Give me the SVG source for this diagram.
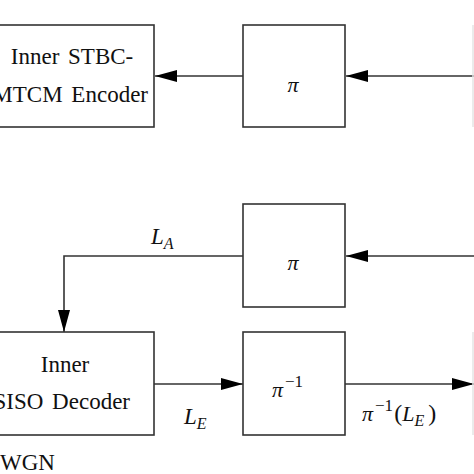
<svg xmlns="http://www.w3.org/2000/svg" width="474" height="474" viewBox="0 0 474 474">
<style>
.box{fill:#fff;stroke:#333;stroke-width:1.6}
.ln{fill:none;stroke:#333;stroke-width:1.6}
.t{font-family:"Liberation Serif","Times New Roman",serif;font-size:23px;fill:#111}
.m{font-family:"Liberation Serif","Times New Roman",serif;font-style:italic;fill:#111}
.faint{stroke:#e4e4e4;stroke-width:1.5}
</style>
<defs>
<marker id="ah" markerUnits="userSpaceOnUse" markerWidth="22" markerHeight="14" refX="22" refY="6" orient="auto">
<path d="M0,0 L22,6 L0,12 z" fill="#000"/>
</marker>
</defs>
<rect width="474" height="474" fill="#fff"/>
<g id="connectors">
<line class="ln" x1="474" y1="76" x2="346" y2="76" marker-end="url(#ah)"/>
<line class="ln" x1="243" y1="76" x2="155" y2="76" marker-end="url(#ah)"/>
<line class="ln" x1="474" y1="256" x2="346" y2="256" marker-end="url(#ah)"/>
<polyline class="ln" points="243,256 64,256 64,332" marker-end="url(#ah)"/>
<line class="ln" x1="154" y1="384" x2="243" y2="384" marker-end="url(#ah)"/>
<line class="ln" x1="345" y1="384" x2="474" y2="384" marker-end="url(#ah)"/>
<line class="faint" x1="473" y1="25" x2="473" y2="127"/>
<line class="faint" x1="473" y1="332" x2="473" y2="435"/>
</g>
<g id="encoder">
<rect class="box" x="-10" y="25" width="164" height="102"/>
<text class="t" x="72" y="64" text-anchor="middle" word-spacing="3">Inner STBC-</text>
<text class="t" x="148" y="102" text-anchor="end" word-spacing="3">MTCM Encoder</text>
</g>
<g id="pi-top">
<rect class="box" x="243" y="25" width="102" height="102"/>
<text class="m" x="293" y="92" font-size="22" text-anchor="middle">π</text>
</g>
<g id="pi-mid">
<rect class="box" x="243" y="204" width="102" height="103"/>
<text class="m" x="293" y="270" font-size="22" text-anchor="middle">π</text>
</g>
<g id="decoder">
<rect class="box" x="-10" y="332" width="164" height="103"/>
<text class="t" x="65" y="372" text-anchor="middle">Inner</text>
<text class="t" x="130" y="409" text-anchor="end" word-spacing="3">SISO Decoder</text>
</g>
<g id="pi-inv">
<rect class="box" x="243" y="332" width="102" height="103"/>
<text class="m" x="272" y="397" font-size="22">π<tspan font-style="normal" font-size="17" dx="2" dy="-10">−1</tspan></text>
</g>
<g id="labels">
<text class="m" x="151" y="244" font-size="23">L<tspan font-size="16" dy="5">A</tspan></text>
<text class="m" x="184" y="424" font-size="23">L<tspan font-size="16" dy="5">E</tspan></text>
<text class="m" x="362" y="421" font-size="22">π<tspan font-style="normal" font-size="17" dx="2" dy="-10">−1</tspan><tspan font-style="normal" font-size="24" dx="1" dy="10">(</tspan>L<tspan font-size="16" dy="5">E</tspan><tspan font-style="normal" font-size="24" dx="4" dy="-5">)</tspan></text>
<text class="t" x="0" y="470" font-size="21">WGN</text>
</g>
</svg>
